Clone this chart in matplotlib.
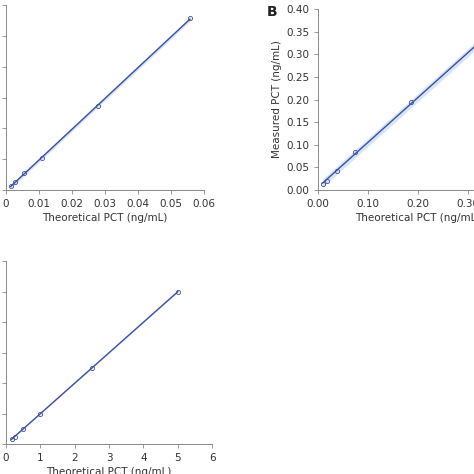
import matplotlib

matplotlib.use("Agg")
import matplotlib.pyplot as plt
import numpy as np

# panel A
a_x = [0.0014, 0.0028, 0.0055, 0.011, 0.0278, 0.0557]
a_y = [0.0013, 0.0027, 0.0055, 0.0104, 0.0272, 0.0557]
# panel B
b_x = [0.009, 0.018, 0.037, 0.074, 0.185, 0.37]
b_y = [0.013, 0.020, 0.043, 0.085, 0.195, 0.37]
# panel C
c_x = [0.16, 0.25, 0.5, 1.0, 2.5, 5.0]
c_y = [0.16, 0.25, 0.5, 1.0, 2.5, 5.0]

LINE = "#3d4f9f"
BAND = "#d6e5f7"
SPINE = "#888888"
TXT = "#333333"
FS = 7.5


def panel(ax, x, y, xlim, ylim, xticks, yticks, xfmt, yfmt, band, ylabel=None):
    x = np.array(x)
    y = np.array(y)
    k, b = np.polyfit(x, y, 1)
    xx = np.linspace(x.min(), x.max(), 50)
    yy = k * xx + b
    if band > 0:
        ax.fill_between(xx, yy - band, yy + band, color=BAND, lw=0)
    ax.plot(xx, yy, color=LINE, lw=1)
    ax.plot(x, y, "o", mfc="none", mec=LINE, ms=3, mew=0.6)
    ax.set_xlim(xlim)
    ax.set_ylim(ylim)
    ax.set_xticks(xticks, [xfmt.format(v) for v in xticks])
    ax.set_yticks(yticks, [yfmt.format(v) for v in yticks])
    ax.tick_params(labelsize=FS, colors=SPINE, labelcolor=TXT, length=3, width=0.6)
    for s in ("top", "right"):
        ax.spines[s].set_visible(False)
    for s in ("left", "bottom"):
        ax.spines[s].set_color(SPINE)
        ax.spines[s].set_linewidth(0.7)
    ax.set_xlabel("Theoretical PCT (ng/mL)", fontsize=FS, color=TXT, labelpad=3)
    if ylabel:
        ax.set_ylabel(ylabel, fontsize=FS, color=TXT, labelpad=3)


fig = plt.figure(figsize=(4.74, 4.74), dpi=100, facecolor="white")

ax_a = fig.add_axes([0.0127, 0.599, 0.418, 0.390])
panel(ax_a, a_x, a_y, (0, 0.06), (0, 0.06), [0, 0.01, 0.02, 0.03, 0.04, 0.05, 0.06],
      [0, 0.01, 0.02, 0.03, 0.04, 0.05, 0.06], "{:g}", "{:.2f}", 0.0007)
ax_a.tick_params(axis="y", labelleft=False)

ax_b = fig.add_axes([0.671, 0.599, 0.422, 0.382])
panel(ax_b, b_x, b_y, (0, 0.40), (0, 0.40), [0, 0.1, 0.2, 0.3, 0.4],
      [0, 0.05, 0.1, 0.15, 0.2, 0.25, 0.3, 0.35, 0.4], "{:.2f}", "{:.2f}", 0.009,
      ylabel="Measured PCT (ng/mL)")
fig.text(0.563, 0.975, "B", fontsize=10, fontweight="bold", color="#222222", va="center")

ax_c = fig.add_axes([0.0127, 0.063, 0.435, 0.386])
panel(ax_c, c_x, c_y, (0, 6), (0, 6), [0, 1, 2, 3, 4, 5, 6],
      [0, 1, 2, 3, 4, 5, 6], "{:g}", "{:g}", 0.02)
ax_c.tick_params(axis="y", labelleft=False)

fig.savefig("out.png", dpi=100, facecolor="white")
